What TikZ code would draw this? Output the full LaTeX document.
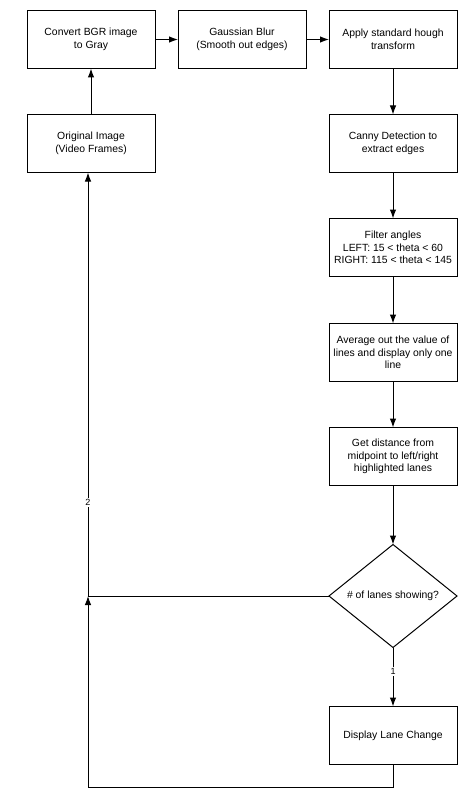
\documentclass[tikz,border=0pt]{standalone}
\usepackage{fontspec}
\setmainfont{Liberation Sans}
\usetikzlibrary{arrows.meta,positioning,shapes.geometric}

\tikzset{
  stepbox/.style={draw, line width=1pt, rectangle, minimum width=128pt,
    minimum height=58pt, outer sep=0pt, align=center,
    font=\fontsize{10.4}{12.5}\selectfont},
  decision/.style={draw, line width=1pt, diamond, minimum width=128pt,
    minimum height=103pt, inner sep=0pt, outer sep=0pt, align=center,
    font=\fontsize{10.4}{12.5}\selectfont},
  flow/.style={line width=1pt, -{Latex[length=9pt,width=6.5pt]}},
  branch/.style={fill=white, inner sep=1.5pt, font=\fontsize{9}{10}\selectfont}
}

\begin{document}
\begin{tikzpicture}[node distance=46pt]
          \useasboundingbox (0,0) rectangle (474pt,-797pt);

          \node[stepbox] (gray) at (91pt,-39.5pt) {Convert BGR image\\to Gray};
          \node[stepbox, right=23pt of gray] (blur) {Gaussian Blur\\(Smooth out edges)};
          \node[stepbox, right=23pt of blur] (hough) {Apply standard hough\\transform};
          \node[stepbox, below=of gray] (orig) {Original Image\\(Video Frames)};
          \node[stepbox, below=of hough] (canny) {Canny Detection to\\extract edges};
          \node[stepbox, below=of canny] (filter) {Filter angles\\LEFT: 15 < theta < 60\\RIGHT: 115 < theta < 145};
          \node[stepbox, below=47pt of filter] (average) {Average out the value of\\lines and display only one\\line};
          \node[stepbox, below=of average] (dist) {Get distance from\\midpoint to left/right\\highlighted lanes};
          \node[decision, below=59pt of dist] (decide) {\# of lanes showing?};
          \node[stepbox, below=59pt of decide] (display) {Display Lane Change};

          \coordinate (junc) at ([xshift=-3pt]orig.south |- decide.west);

          \draw[flow] (orig) -- (gray);
          \draw[flow] (gray) -- (blur);
          \draw[flow] (blur) -- (hough);
          \draw[flow] (hough) -- (canny);
          \draw[flow] (canny) -- (filter);
          \draw[flow] (filter) -- (average);
          \draw[flow] (average) -- (dist);
          \draw[flow] (dist) -- (decide);
          \draw[flow] (decide) -- node[branch, pos=0.41]{1} (display);
          \draw[flow] (decide.west) -- (junc) -- node[branch, pos=0.22]{2} (junc |- orig.south);
          \draw[flow] (display.south) -- ++(0,-23pt) -| (junc);
        \end{tikzpicture}
\end{document}
